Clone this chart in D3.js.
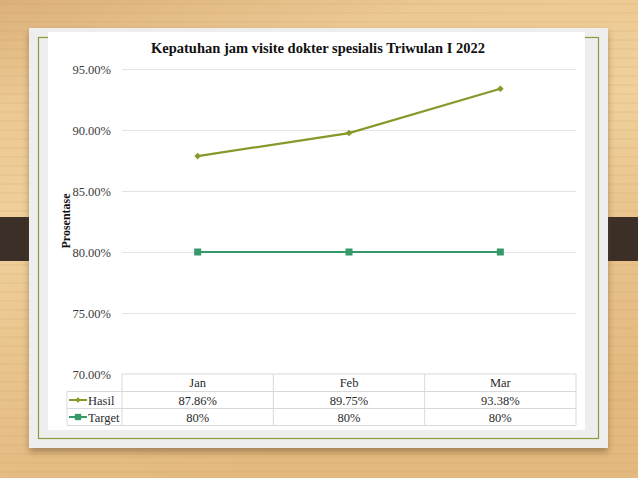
<!DOCTYPE html>
<html>
<head>
<meta charset="utf-8">
<script src="https://cdn.jsdelivr.net/npm/d3@7"></script>
<style>
	html, body { margin: 0; padding: 0; overflow: hidden; }
	svg { display: block; }
</style>
</head>
<body>
<svg width="638" height="478"></svg>
<script>
var months = ["Jan", "Feb", "Mar"];
var hasil = [87.86, 89.75, 93.38];
var target = [80, 80, 80];
var hasilLabels = ["87.86%", "89.75%", "93.38%"];
var targetLabels = ["80%", "80%", "80%"];
var yTicks = [70, 75, 80, 85, 90, 95];
var title = "Kepatuhan jam visite dokter spesialis Triwulan I 2022";
var yTitle = "Prosentase";

var svg = d3.select("svg");
var defs = svg.append("defs");
var font = "'Liberation Serif', 'Times New Roman', serif";
var hasilColor = "#86992a", targetColor = "#36996a";

// wood background
var wood = defs.append("linearGradient").attr("id", "wood")
	.attr("x1", 0).attr("y1", 0).attr("x2", 0.3).attr("y2", 1);
[["0%", "#dcb07a"], ["20%", "#ecc892"], ["45%", "#f0d09c"], ["70%", "#e9c48c"], ["100%", "#e3b97f"]]
	.forEach(function (s) { wood.append("stop").attr("offset", s[0]).attr("stop-color", s[1]); });
svg.append("rect").attr("width", 638).attr("height", 478).attr("fill", "url(#wood)");

// faint grain stripes
svg.append("g").selectAll("line")
	.data(d3.range(4, 478, 9))
	.enter().append("line")
	.attr("x1", 0).attr("x2", 638)
	.attr("y1", function (d) { return d; }).attr("y2", function (d) { return d; })
	.attr("stroke", "#c99a60").attr("stroke-opacity", 0.12).attr("stroke-width", 2);

// dark tabs
svg.append("rect").attr("x", 0).attr("y", 217).attr("width", 47).attr("height", 44).attr("fill", "#3b2f27");
svg.append("rect").attr("x", 591).attr("y", 217).attr("width", 47).attr("height", 44).attr("fill", "#3b2f27");

// panel with shadow
var shadow = defs.append("filter").attr("id", "shadow").attr("x", -0.1).attr("y", -0.1).attr("width", 1.2).attr("height", 1.2);
shadow.append("feDropShadow").attr("dx", 0).attr("dy", 4).attr("stdDeviation", 3).attr("flood-color", "#5a4020").attr("flood-opacity", 0.45);
svg.append("rect").attr("x", 29).attr("y", 28).attr("width", 579).attr("height", 420)
	.attr("fill", "#eeeeee").attr("filter", "url(#shadow)");
svg.append("rect").attr("x", 38.5).attr("y", 37.5).attr("width", 560).attr("height", 401)
	.attr("fill", "none").attr("stroke", "#8a9a3c").attr("stroke-width", 1.2);

// chart area
svg.append("rect").attr("x", 48).attr("y", 32).attr("width", 537).attr("height", 398).attr("fill", "#ffffff");

var x = d3.scaleBand().domain(months).range([122, 576]).padding(0);
var y = d3.scaleLinear().domain([70, 95]).range([374, 69]);

svg.append("text")
	.attr("x", 318).attr("y", 53)
	.attr("text-anchor", "middle")
	.attr("font-family", font).attr("font-weight", "bold").attr("font-size", 14.5)
	.attr("fill", "#111")
	.text(title);

// grid + y axis
var yAxis = svg.append("g")
	.attr("transform", "translate(122,0)")
	.call(d3.axisLeft(y).tickValues(yTicks).tickSize(-454).tickPadding(11)
		.tickFormat(function (d) { return d.toFixed(2) + "%"; }));
yAxis.select(".domain").remove();
yAxis.selectAll(".tick line").attr("stroke", "#e4e4e4").attr("stroke-width", 1.2);
yAxis.selectAll(".tick text").attr("font-family", font).attr("font-size", 12.5).attr("fill", "#3c3c3c");
yAxis.selectAll(".tick").filter(function (d) { return d === 70; }).select("line").remove();

svg.append("text")
	.attr("transform", "translate(70,221) rotate(-90)")
	.attr("text-anchor", "middle")
	.attr("font-family", font).attr("font-weight", "bold").attr("font-size", 12)
	.attr("fill", "#111")
	.text(yTitle);

// lines
var cx = function (d, i) { return x(months[i]) + x.bandwidth() / 2; };
var line = d3.line().x(cx).y(function (d) { return y(d); });

svg.append("path").datum(target).attr("d", line)
	.attr("fill", "none").attr("stroke", targetColor).attr("stroke-width", 2.2);
svg.append("g").selectAll("rect").data(target).enter().append("rect")
	.attr("x", function (d, i) { return cx(d, i) - 3.5; })
	.attr("y", function (d) { return y(d) - 3.5; })
	.attr("width", 7).attr("height", 7).attr("fill", targetColor);

svg.append("path").datum(hasil).attr("d", line)
	.attr("fill", "none").attr("stroke", hasilColor).attr("stroke-width", 2.2);
svg.append("g").selectAll("path").data(hasil).enter().append("path")
	.attr("d", d3.symbol().type(d3.symbolSquare).size(22))
	.attr("transform", function (d, i) { return "translate(" + cx(d, i) + "," + y(d) + ") rotate(45)"; })
	.attr("fill", hasilColor);

// data table
var rows = [374, 391.5, 408.5, 425.5];
var grid = svg.append("g").attr("stroke", "#d9d9d9").attr("stroke-width", 1).attr("fill", "none");
grid.append("line").attr("x1", 122).attr("x2", 576).attr("y1", rows[0]).attr("y2", rows[0]);
[1, 2, 3].forEach(function (r) {
	grid.append("line").attr("x1", 67).attr("x2", 576).attr("y1", rows[r]).attr("y2", rows[r]);
});
grid.append("line").attr("x1", 67).attr("x2", 67).attr("y1", rows[1]).attr("y2", rows[3]);
months.forEach(function (m) {
	grid.append("line").attr("x1", x(m)).attr("x2", x(m)).attr("y1", rows[0]).attr("y2", rows[3]);
});
grid.append("line").attr("x1", 576).attr("x2", 576).attr("y1", rows[0]).attr("y2", rows[3]);

var cells = svg.append("g").attr("font-family", font).attr("font-size", 12.5)
	.attr("fill", "#2b2b2b").attr("text-anchor", "middle");
[months, hasilLabels, targetLabels].forEach(function (labels, r) {
	cells.selectAll(null).data(labels).enter().append("text")
		.attr("x", function (d, i) { return cx(d, i); })
		.attr("y", (rows[r] + rows[r + 1]) / 2 + 4.5)
		.text(function (d) { return d; });
});

// legend keys
var keys = [
	{ name: "Hasil", color: hasilColor, shape: d3.symbolSquare, size: 14, rot: 45 },
	{ name: "Target", color: targetColor, shape: d3.symbolSquare, size: 40, rot: 0 }
];
keys.forEach(function (k, i) {
	var yy = (rows[i + 1] + rows[i + 2]) / 2;
	svg.append("line").attr("x1", 69).attr("x2", 87).attr("y1", yy).attr("y2", yy)
		.attr("stroke", k.color).attr("stroke-width", 2);
	svg.append("path").attr("d", d3.symbol().type(k.shape).size(k.size))
		.attr("transform", "translate(78," + yy + ") rotate(" + k.rot + ")").attr("fill", k.color);
	svg.append("text").attr("x", 88).attr("y", yy + 4.5)
		.attr("font-family", font).attr("font-size", 12.5).attr("fill", "#2b2b2b")
		.text(k.name);
});
</script>
</body>
</html>
